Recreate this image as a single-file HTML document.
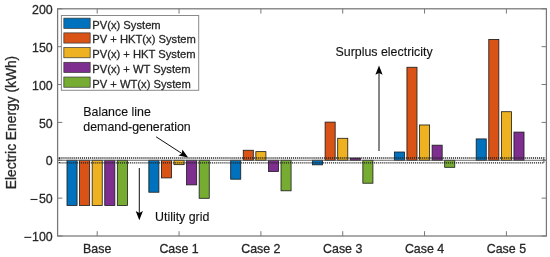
<!DOCTYPE html>
<html><head><meta charset="utf-8"><style>
html,body{margin:0;padding:0;background:#fff;width:550px;height:257px;overflow:hidden}
svg{display:block;will-change:transform}
.ann text{fill:#111;stroke:#111;stroke-width:0.12px}
text{font-family:"Liberation Sans",sans-serif;fill:#262626;stroke:#262626;stroke-width:0.28px}
</style></head><body>
<svg width="550" height="257" viewBox="0 0 550 257">
<defs><filter id="bl" x="-2%" y="-2%" width="104%" height="104%"><feGaussianBlur stdDeviation="0.35"/></filter></defs>
<rect x="0" y="0" width="550" height="257" fill="#fff"/>
<g filter="url(#bl)">
<g><rect x="66.99" y="160.27" width="10.07" height="45.14" fill="#0072BD" stroke="#1a1a1a" stroke-width="0.8"/><rect x="79.58" y="160.27" width="10.07" height="45.14" fill="#D95319" stroke="#1a1a1a" stroke-width="0.8"/><rect x="92.17" y="160.27" width="10.07" height="45.14" fill="#EDB120" stroke="#1a1a1a" stroke-width="0.8"/><rect x="104.75" y="160.27" width="10.07" height="45.14" fill="#7E2F8E" stroke="#1a1a1a" stroke-width="0.8"/><rect x="117.34" y="160.27" width="10.07" height="45.14" fill="#77AC30" stroke="#1a1a1a" stroke-width="0.8"/><rect x="148.83" y="160.27" width="10.07" height="31.96" fill="#0072BD" stroke="#1a1a1a" stroke-width="0.8"/><rect x="161.42" y="160.27" width="10.07" height="17.65" fill="#D95319" stroke="#1a1a1a" stroke-width="0.8"/><rect x="174.01" y="160.27" width="10.07" height="4.39" fill="#EDB120" stroke="#1a1a1a" stroke-width="0.8"/><rect x="186.59" y="160.27" width="10.07" height="24.61" fill="#7E2F8E" stroke="#1a1a1a" stroke-width="0.8"/><rect x="199.18" y="160.27" width="10.07" height="38.02" fill="#77AC30" stroke="#1a1a1a" stroke-width="0.8"/><rect x="230.67" y="160.27" width="10.07" height="18.93" fill="#0072BD" stroke="#1a1a1a" stroke-width="0.8"/><rect x="243.26" y="150.27" width="10.07" height="10.00" fill="#D95319" stroke="#1a1a1a" stroke-width="0.8"/><rect x="255.85" y="151.63" width="10.07" height="8.63" fill="#EDB120" stroke="#1a1a1a" stroke-width="0.8"/><rect x="268.43" y="160.27" width="10.07" height="11.21" fill="#7E2F8E" stroke="#1a1a1a" stroke-width="0.8"/><rect x="281.02" y="160.27" width="10.07" height="30.52" fill="#77AC30" stroke="#1a1a1a" stroke-width="0.8"/><rect x="312.51" y="160.27" width="10.07" height="4.54" fill="#0072BD" stroke="#1a1a1a" stroke-width="0.8"/><rect x="325.10" y="122.10" width="10.07" height="38.17" fill="#D95319" stroke="#1a1a1a" stroke-width="0.8"/><rect x="337.69" y="138.30" width="10.07" height="21.96" fill="#EDB120" stroke="#1a1a1a" stroke-width="0.8"/><rect x="350.27" y="158.22" width="10.07" height="2.04" fill="#7E2F8E" stroke="#1a1a1a" stroke-width="0.8"/><rect x="362.86" y="160.27" width="10.07" height="22.95" fill="#77AC30" stroke="#1a1a1a" stroke-width="0.8"/><rect x="394.35" y="152.01" width="10.07" height="8.25" fill="#0072BD" stroke="#1a1a1a" stroke-width="0.8"/><rect x="406.94" y="67.27" width="10.07" height="93.00" fill="#D95319" stroke="#1a1a1a" stroke-width="0.8"/><rect x="419.53" y="124.97" width="10.07" height="35.29" fill="#EDB120" stroke="#1a1a1a" stroke-width="0.8"/><rect x="432.11" y="145.20" width="10.07" height="15.07" fill="#7E2F8E" stroke="#1a1a1a" stroke-width="0.8"/><rect x="444.70" y="160.27" width="10.07" height="7.04" fill="#77AC30" stroke="#1a1a1a" stroke-width="0.8"/><rect x="476.19" y="138.91" width="10.07" height="21.36" fill="#0072BD" stroke="#1a1a1a" stroke-width="0.8"/><rect x="488.78" y="39.40" width="10.07" height="120.87" fill="#D95319" stroke="#1a1a1a" stroke-width="0.8"/><rect x="501.37" y="111.72" width="10.07" height="48.55" fill="#EDB120" stroke="#1a1a1a" stroke-width="0.8"/><rect x="513.95" y="132.09" width="10.07" height="28.17" fill="#7E2F8E" stroke="#1a1a1a" stroke-width="0.8"/></g>
<line x1="57.6" y1="160.27" x2="546.4" y2="160.27" stroke="#555" stroke-width="0.9"/>
<rect x="59.3" y="158.0" width="484.5" height="4.9" fill="none" stroke="#222" stroke-width="1.4" stroke-dasharray="1.15,0.9"/>
<rect x="57.6" y="8.8" width="488.80" height="227.20" fill="none" stroke="#787878" stroke-width="1.25"/>
<g stroke="#787878" stroke-width="1"><line x1="97.20" y1="236.0" x2="97.20" y2="231.2"/><line x1="97.20" y1="8.8" x2="97.20" y2="13.600000000000001"/><line x1="179.04" y1="236.0" x2="179.04" y2="231.2"/><line x1="179.04" y1="8.8" x2="179.04" y2="13.600000000000001"/><line x1="260.88" y1="236.0" x2="260.88" y2="231.2"/><line x1="260.88" y1="8.8" x2="260.88" y2="13.600000000000001"/><line x1="342.72" y1="236.0" x2="342.72" y2="231.2"/><line x1="342.72" y1="8.8" x2="342.72" y2="13.600000000000001"/><line x1="424.56" y1="236.0" x2="424.56" y2="231.2"/><line x1="424.56" y1="8.8" x2="424.56" y2="13.600000000000001"/><line x1="506.40" y1="236.0" x2="506.40" y2="231.2"/><line x1="506.40" y1="8.8" x2="506.40" y2="13.600000000000001"/><line x1="57.6" y1="8.80" x2="62.4" y2="8.80"/><line x1="546.4" y1="8.80" x2="541.6" y2="8.80"/><line x1="57.6" y1="46.67" x2="62.4" y2="46.67"/><line x1="546.4" y1="46.67" x2="541.6" y2="46.67"/><line x1="57.6" y1="84.53" x2="62.4" y2="84.53"/><line x1="546.4" y1="84.53" x2="541.6" y2="84.53"/><line x1="57.6" y1="122.40" x2="62.4" y2="122.40"/><line x1="546.4" y1="122.40" x2="541.6" y2="122.40"/><line x1="57.6" y1="160.27" x2="62.4" y2="160.27"/><line x1="546.4" y1="160.27" x2="541.6" y2="160.27"/><line x1="57.6" y1="198.13" x2="62.4" y2="198.13"/><line x1="546.4" y1="198.13" x2="541.6" y2="198.13"/><line x1="57.6" y1="236.00" x2="62.4" y2="236.00"/><line x1="546.4" y1="236.00" x2="541.6" y2="236.00"/></g>
<g font-size="12.4"><text x="52.7" y="13.90" text-anchor="end">200</text><text x="52.7" y="51.77" text-anchor="end">150</text><text x="52.7" y="89.63" text-anchor="end">100</text><text x="52.7" y="127.50" text-anchor="end">50</text><text x="52.7" y="165.37" text-anchor="end">0</text><text x="52.7" y="203.23" text-anchor="end">50</text><rect x="30.50" y="198.93" width="7.0" height="1.1" fill="#262626"/><text x="52.7" y="241.10" text-anchor="end">100</text><rect x="24.30" y="236.80" width="7.0" height="1.1" fill="#262626"/><text x="97.20" y="252.6" text-anchor="middle">Base</text><text x="179.04" y="252.6" text-anchor="middle">Case 1</text><text x="260.88" y="252.6" text-anchor="middle">Case 2</text><text x="342.72" y="252.6" text-anchor="middle">Case 3</text><text x="424.56" y="252.6" text-anchor="middle">Case 4</text><text x="506.40" y="252.6" text-anchor="middle">Case 5</text></g>
<g font-size="11.2"><rect x="61.4" y="15.5" width="137.3" height="74.8" fill="#fff" stroke="#8a8a8a" stroke-width="1"/><rect x="63.85" y="18.15" width="26.3" height="10.2" fill="#0072BD" stroke="#333" stroke-width="0.7"/><text x="92.3" y="28.75">PV(x) System</text><rect x="63.85" y="32.87" width="26.3" height="10.2" fill="#D95319" stroke="#333" stroke-width="0.7"/><text x="92.3" y="43.47">PV + HKT(x) System</text><rect x="63.85" y="47.59" width="26.3" height="10.2" fill="#EDB120" stroke="#333" stroke-width="0.7"/><text x="92.3" y="58.19">PV(x) + HKT System</text><rect x="63.85" y="62.31" width="26.3" height="10.2" fill="#7E2F8E" stroke="#333" stroke-width="0.7"/><text x="92.3" y="72.91">PV(x) + WT System</text><rect x="63.85" y="77.03" width="26.3" height="10.2" fill="#77AC30" stroke="#333" stroke-width="0.7"/><text x="92.3" y="87.63">PV + WT(x) System</text></g>
<g font-size="12.4" style="fill:#000" class="ann">
<text x="83.3" y="115.5">Balance line</text>
<text x="83.3" y="130.6">demand-generation</text>
<text x="335.5" y="55.6">Surplus electricity</text>
<text x="155.0" y="220.7">Utility grid</text>
</g>
<line x1="156.1" y1="136.8" x2="181.92" y2="153.50" stroke="#000" stroke-width="0.95"/><polygon points="188.10,157.50 178.42,155.53 181.92,153.50 182.33,149.48" fill="#000"/>
<line x1="379" y1="151" x2="379.00" y2="72.96" stroke="#000" stroke-width="0.95"/><polygon points="379.00,65.60 382.60,74.80 379.00,72.96 375.40,74.80" fill="#000"/>
<line x1="139.3" y1="168" x2="139.30" y2="212.94" stroke="#000" stroke-width="0.95"/><polygon points="139.30,220.30 135.70,211.10 139.30,212.94 142.90,211.10" fill="#000"/>
<text transform="translate(15.6,189.2) rotate(-90)" font-size="13.8">Electric Energy (kWh)</text>
</g>
</svg>
</body></html>
